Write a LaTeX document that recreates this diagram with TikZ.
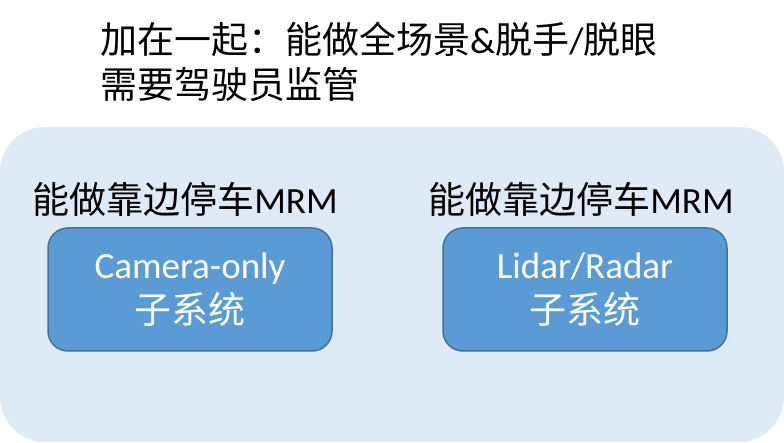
\documentclass[tikz,border=0pt]{standalone}
\usepackage{fontspec}
\setmainfont{Carlito}
\newfontfamily\cjk{Noto Sans CJK SC}
\definecolor{panelfill}{HTML}{DEEAF6}
\definecolor{boxfill}{HTML}{5B9BD5}
\definecolor{boxline}{HTML}{41719C}
\begin{document}
\begin{tikzpicture}[x=1pt,y=-1pt,
    every node/.style={font=\fontsize{37}{45}\selectfont, inner sep=0pt},
    subsys/.style={draw=boxline, line width=1.5pt, fill=boxfill,
      rounded corners=20pt, minimum width=284pt, minimum height=123pt,
      text=white, align=center},
    mrmlabel/.style={text=black}]
  \useasboundingbox (0,0) rectangle (784,443);

  % Background panel
  \fill[panelfill, rounded corners=45pt] (0,127) rectangle (784,442);

  % Heading
  \node[anchor=west, align=left] (head) at (100,62)
    {{\cjk 加在一起：能做全场景}\&{\cjk 脱手}/{\cjk 脱眼}\\{\cjk 需要驾驶员监管}};

  % Subsystems
  \node[subsys] (cam) at (190,289.5) {Camera-only\\{\cjk 子系统}};
  \node[subsys] (lidar) at (585,289.5) {Lidar/Radar\\{\cjk 子系统}};

  % MRM labels
  \node[mrmlabel] (cammrm) at (185,199) {{\cjk 能做靠边停车}MRM};
  \node[mrmlabel] (lidarmrm) at (581,199) {{\cjk 能做靠边停车}MRM};
\end{tikzpicture}
\end{document}
